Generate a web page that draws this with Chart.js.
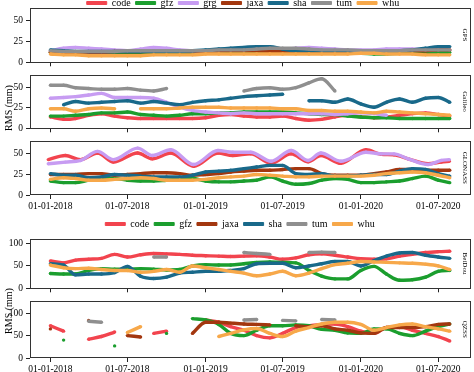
<!DOCTYPE html>
<html>
<head>
<meta charset="utf-8">
<script src="https://cdn.jsdelivr.net/npm/chart.js@4/dist/chart.umd.min.js"></script>
<style>
  body { margin: 0; background: #fff; }
  #wrap { position: relative; width: 474px; height: 372px; overflow: hidden; background: #fff; }
  #wrap canvas { position: absolute; }
  .ylab { position: absolute; font: 10px "Liberation Serif", serif; color: #000; white-space: nowrap;
          transform: translate(-50%, -50%) rotate(-90deg); }
</style>
</head>
<body>
<div id="wrap">
  <canvas id="legTop" width="474" height="30" style="left:6px;top:-7px"></canvas>
  <canvas id="gps" width="474" height="72" style="left:0;top:-1px"></canvas>
  <canvas id="gal" width="474" height="71" style="left:0;top:66px"></canvas>
  <canvas id="glo" width="474" height="81" style="left:0;top:132px"></canvas>
  <canvas id="legBot" width="474" height="30" style="left:3px;top:214px"></canvas>
  <canvas id="bds" width="474" height="67" style="left:0;top:230px"></canvas>
  <canvas id="qzs" width="474" height="84" style="left:0;top:292px"></canvas>
  <div class="ylab" style="left:8px;top:108px">RMS (mm)</div>
  <div class="ylab" style="left:8px;top:311px">RMS (mm)</div>
</div>
<script>
// sample dates (1st of each month, last one end of data)
const sampleDates = ['2018-01-01','2018-02-01','2018-03-01','2018-04-01','2018-05-01','2018-06-01',
  '2018-07-01','2018-08-01','2018-09-01','2018-10-01','2018-11-01','2018-12-01',
  '2019-01-01','2019-02-01','2019-03-01','2019-04-01','2019-05-01','2019-06-01',
  '2019-07-01','2019-08-01','2019-09-01','2019-10-01','2019-11-01','2019-12-01',
  '2020-01-01','2020-02-01','2020-03-01','2020-04-01','2020-05-01','2020-06-01',
  '2020-07-01','2020-07-28'];
// turning points of the GLONASS code / grg waves
const waveDates = ['2017-12-27','2018-02-05','2018-03-13','2018-04-22','2018-05-29','2018-07-25',
  '2018-08-29','2018-10-11','2018-12-04','2019-01-30','2019-03-06','2019-04-17',
  '2019-06-04','2019-07-21','2019-08-30','2019-09-29','2019-11-15','2020-01-13',
  '2020-02-18','2020-03-19','2020-04-21','2020-06-07','2020-07-08','2020-07-27'];

const tickDates = ['2018-01-01','2018-07-01','2019-01-01','2019-07-01','2020-01-01','2020-07-01'];
const tickLabels = ['01-01-2018','01-07-2018','01-01-2019','01-07-2019','01-01-2020','01-07-2020'];

// GPS
const gpsCode = [13,12,12,12,13,13,13,14,15,14,13,13,13,13,14,14,14,14,14,14,14,15,15,14,14,13,14,15,15,15,15,15];
const gpsGfz  = [12,11,11,11,11,11,11,11,11,11,11,11,12,12,12,12,12,12,12,12,12,12,12,11,11,10,10,11,11,12,12,12];
const gpsGrg  = [14,17,18,17,16,15,14,16,18,17,15,14,14,14,15,16,16,16,16,17,18,17,16,15,15,15,16,16,16,15,null,null];
const gpsJaxa = [12,12,12,12,12,13,13,13,13,13,13,13,13,14,14,14,14,13,13,13,13,13,13,13,13,13,13,14,14,14,15,15];
const gpsSha  = [15,14,13,13,13,13,13,13,13,13,13,14,15,16,17,18,19,19,16,14,14,14,14,14,13,13,13,14,15,17,19,19];
const gpsTum  = [14,13,13,13,13,13,14,14,14,14,14,14,14,15,15,15,16,17,17,17,16,15,15,15,14,14,14,14,15,15,15,15];
const gpsWhu  = [10,9,9,8,8,8,8,8,9,9,9,9,10,10,10,10,10,10,10,10,10,10,10,10,11,11,10,10,10,9,9,9];

// Galileo
const galCode = [14,11,12,16,18,15,13,12,12,12,12,12,13,16,17,15,14,14,15,12,10,11,14,16,14,13,14,16,18,19,17,15];
const galGfz  = [15,15,16,17,19,19,20,17,16,15,16,18,18,19,19,20,20,20,20,19,18,17,17,15,14,13,13,12,12,12,12,12];
const galGrg  = [37,38,39,41,43,38,38,38,37,32,26,22,20,19,18,19,18,18,18,18,18,18,17,18,19,18,16,null,null,null,null,null];
const galSha  = [null,29,33,31,32,33,34,31,33,31,29,32,34,35,37,39,40,41,42,null,34,34,32,36,30,26,32,36,32,37,38,32];
const galTum  = [53,53,50,49,48,48,49,47,46,49,null,null,null,null,null,46,49,50,48,50,56,61,46,null,null,null,null,null,null,null,null,null];
const galWhu  = [24,24,21,24,25,24,null,24,24,24,25,26,26,26,25,25,25,25,24,24,22,22,21,21,20,19,21,20,19,18,17,16];

// GLONASS
const gloCode = [43,48,43,51,40,51,44,51,35,51,48,50,38.5,50,40.5,48,38.5,55,49.5,49,44,38,40,41];
const gloGrg  = [38,40,42,53,43,57,48,55,37,54,52,52,41,54,42,51,41,52,50,50,44,37,42,43];
const gloGfz  = [17,15,15,18,20,20,18,17,17,18,19,20,17,16,16,17,18,22,17,13,14,18,20,19,15,15,16,17,20,23,18,15];
const gloJaxa = [25,25,25,26,26,24,25,26,27,27,26,24,25,26,28,29,30,30,31,32,32,26,24,24,24,26,28,31,31,30,30,30];
const gloSha  = [26,24,24,21,22,25,24,23,22,22,22,24,28,29,30,32,34,36,36,26,25,26,23,23,24,25,25,29,32,31,26,23];
const gloWhu  = [19,21,20,18,18,19,20,21,20,18,18,18,19,21,22,23,25,24,23,22,22,23,23,23,23,24,26,27,28,27,24,21];

// BeiDou
const bdsCode = [61,57,63,65,67,76,70,75,78,77,76,74,73,72,71,72,73,70,65,68,75,77,74,70,66,65,66,72,76,80,82,83];
const bdsGfz  = [33,32,32,40,44,43,43,44,43,41,42,50,53,52,52,55,58,59,58,57,40,27,21,21,40,49,32,18,19,25,38,40];
const bdsSha  = [55,52,30,32,32,35,49,27,22,25,34,36,38,38,40,44,55,56,56,46,50,55,60,60,50,62,72,79,80,74,70,67];
const bdsTum  = [null,null,null,null,null,null,null,null,70,70,null,null,null,null,null,80,78,76,null,null,80,81,80,null,null,null,null,null,null,null,null,null];
const bdsWhu  = [52,46,44,45,42,40,40,36,38,42,36,50,46,42,38,34,28,32,38,28,34,44,53,56,60,59,58,57,56,54,50,42];

// QZSS
const qzsCode = [72,60,null,42,48,58,null,null,55,60,null,null,85,80,70,62,50,45,55,68,72,75,76,70,60,55,68,70,62,55,48,38];
const qzsGfz  = [null,40,null,null,null,27,null,null,null,55,null,88,85,75,55,50,62,72,72,74,72,64,62,56,55,65,65,55,50,60,70,76];
const qzsJaxa = [65,null,null,84,null,null,50,47,null,null,null,55,80,80,78,76,75,74,null,72,70,72,65,62,56,55,68,68,68,70,75,76];
const qzsTum  = [null,null,null,82,80,null,null,null,null,null,null,null,null,null,null,85,86,null,84,83,null,86,85,null,null,null,null,null,null,null,null,null];
const qzsWhu  = [null,null,null,null,null,null,57,70,null,null,null,null,null,48,55,63,66,55,48,60,68,76,80,80,75,62,68,74,76,70,65,60];

const colors = { code: '#f2444e', gfz: '#1b9e2e', grg: '#c79cf2', jaxa: '#a3370f',
                 sha: '#19698a', tum: '#8f8f8f', whu: '#f7a84a' };
const stackOrder = ['code', 'gfz', 'grg', 'jaxa', 'sha', 'tum', 'whu'];

const toDay = s => (Date.parse(s) - Date.parse('2018-01-01')) / 86400000;
const sampleDays = sampleDates.map(toDay);
const waveDays = waveDates.map(toDay);
const tickDays = tickDates.map(toDay);
const xMin = -48, xMax = 989;
const serif = '"Liberation Serif", "Times New Roman", serif';

function series(name, vals, days) {
  return {
    label: name,
    data: vals.map((v, i) => ({ x: days[i], y: v })),
    borderColor: colors[name],
    backgroundColor: colors[name],
    borderWidth: 3.4,
    pointRadius: 1.7,
    pointBorderWidth: 0,
    pointHoverRadius: 0,
    tension: 0.4,
    cubicInterpolationMode: 'monotone',
    spanGaps: false,
    order: 10 - stackOrder.indexOf(name)
  };
}

const panelPlugin = {
  id: 'panel',
  afterDraw(chart, args, opts) {
    const { ctx, chartArea: a } = chart;
    ctx.save();
    ctx.strokeStyle = '#333';
    ctx.lineWidth = 1;
    ctx.strokeRect(Math.round(a.left) + 0.5, Math.round(a.top) + 0.5,
                   Math.round(a.right - a.left) - 1, Math.round(a.bottom - a.top) - 1);
    ctx.fillStyle = '#000';
    ctx.font = '7px ' + serif;
    ctx.translate(a.right - 6, (a.top + a.bottom) / 2);
    ctx.rotate(Math.PI / 2);
    ctx.textAlign = 'center';
    ctx.textBaseline = 'middle';
    ctx.fillText(opts.name, 0, 0);
    ctx.restore();
  }
};

function panel(id, name, datasets, yMax, yTicks, showDates) {
  const tickFont = { family: serif, size: 9.5 };
  new Chart(document.getElementById(id), {
    type: 'line',
    data: { datasets },
    plugins: [panelPlugin],
    options: {
      responsive: false,
      animation: false,
      layout: { padding: { top: 8, right: 3, left: 0, bottom: 0 } },
      plugins: { legend: { display: false }, tooltip: { enabled: false }, panel: { name } },
      scales: {
        x: {
          type: 'linear', min: xMin, max: xMax,
          afterFit: s => { s.height = showDates ? 18 : 8; },
          afterBuildTicks: s => { s.ticks = tickDays.map(v => ({ value: v })); },
          grid: { drawOnChartArea: false, drawTicks: true, tickLength: 4, color: '#222' },
          border: { display: false },
          ticks: { display: showDates, font: tickFont, color: '#000', padding: 2, maxRotation: 0,
                   autoSkip: false, callback: (v, i) => tickLabels[i] }
        },
        y: {
          min: 0, max: yMax,
          afterFit: s => { s.width = 30; },
          afterBuildTicks: s => { s.ticks = yTicks.map(v => ({ value: v })); },
          grid: { drawOnChartArea: false, drawTicks: true, tickLength: 4, color: '#222' },
          border: { display: false },
          ticks: { font: tickFont, color: '#000', padding: 3 }
        }
      }
    }
  });
}

function legendChart(id, names) {
  new Chart(document.getElementById(id), {
    type: 'line',
    data: { datasets: names.map(n => ({ label: n, data: [], borderColor: colors[n],
                                        backgroundColor: colors[n], borderWidth: 1 })) },
    options: {
      responsive: false,
      animation: false,
      layout: { padding: 0 },
      scales: { x: { display: false }, y: { display: false } },
      plugins: {
        tooltip: { enabled: false },
        legend: { position: 'top',
                  labels: { boxWidth: 20, boxHeight: 3, padding: 5, color: '#000',
                            font: { family: serif, size: 10 } } }
      }
    }
  });
}

legendChart('legTop', ['code', 'gfz', 'grg', 'jaxa', 'sha', 'tum', 'whu']);
legendChart('legBot', ['code', 'gfz', 'jaxa', 'sha', 'tum', 'whu']);

panel('gps', 'GPS', [
  series('code', gpsCode, sampleDays), series('gfz', gpsGfz, sampleDays),
  series('grg', gpsGrg, sampleDays), series('jaxa', gpsJaxa, sampleDays),
  series('sha', gpsSha, sampleDays), series('tum', gpsTum, sampleDays),
  series('whu', gpsWhu, sampleDays)], 66, [0, 25, 50], false);

panel('gal', 'Galileo', [
  series('code', galCode, sampleDays), series('gfz', galGfz, sampleDays),
  series('grg', galGrg, sampleDays), series('sha', galSha, sampleDays),
  series('tum', galTum, sampleDays), series('whu', galWhu, sampleDays)], 66, [0, 25, 50], false);

panel('glo', 'GLONASS', [
  series('code', gloCode, waveDays), series('gfz', gloGfz, sampleDays),
  series('grg', gloGrg, waveDays), series('jaxa', gloJaxa, sampleDays),
  series('sha', gloSha, sampleDays), series('whu', gloWhu, sampleDays)], 66, [0, 25, 50], true);

panel('bds', 'BeiDou', [
  series('code', bdsCode, sampleDays), series('gfz', bdsGfz, sampleDays),
  series('sha', bdsSha, sampleDays), series('tum', bdsTum, sampleDays),
  series('whu', bdsWhu, sampleDays)], 111, [0, 50, 100], false);

panel('qzs', 'QZSS', [
  series('code', qzsCode, sampleDays), series('gfz', qzsGfz, sampleDays),
  series('jaxa', qzsJaxa, sampleDays), series('tum', qzsTum, sampleDays),
  series('whu', qzsWhu, sampleDays)], 128, [0, 50, 100], true);
</script>
</body>
</html>
